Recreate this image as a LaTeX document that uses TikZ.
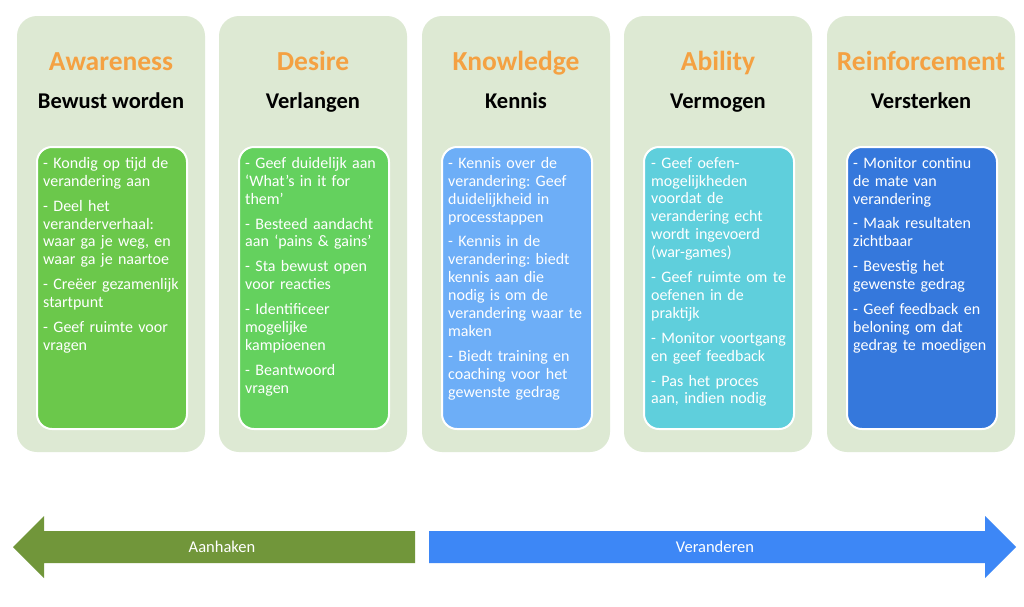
\documentclass[tikz,border=0pt]{standalone}
\usepackage{fontspec}
\setmainfont{Carlito}
\frenchspacing
\definecolor{panelbg}{HTML}{DDE9D3}
\definecolor{ttlorange}{HTML}{F4A142}
\definecolor{cA}{HTML}{6BC84B}
\definecolor{cB}{HTML}{64D15E}
\definecolor{cC}{HTML}{6DAEF7}
\definecolor{cD}{HTML}{5FCFDC}
\definecolor{cE}{HTML}{3578DC}
\definecolor{arrL}{HTML}{71963A}
\definecolor{arrR}{HTML}{3D87F6}
\tikzset{
  panel/.style={fill=panelbg, draw=none, rounded corners=20pt},
  inner/.style={draw=white, line width=2pt, rounded corners=15pt},
  ttl/.style={anchor=base, text=ttlorange, font=\fontsize{27.5}{30}\selectfont\bfseries, inner sep=0pt},
  sub/.style={anchor=base, text=black, font=\fontsize{22.5}{24}\selectfont\bfseries, inner sep=0pt},
  body/.style={anchor=north west, text=white, align=left, inner sep=0pt, text width=150pt, font=\fontsize{16}{17.9}\selectfont\frenchspacing},
  arrtxt/.style={text=white, font=\fontsize{16.5}{18}\selectfont, inner sep=0pt}
}
\newcommand{\psep}{\\[7pt]}
\begin{document}
\begin{tikzpicture}[x=1pt,y=-1pt]
\useasboundingbox (0,0) rectangle (1024,606);
\fill[white] (0,0) rectangle (1024,606);
% panels
\foreach \x/\c in {17/cA,219/cB,422/cC,624/cD,827/cE}{
  \fill[panel] (\x,16) rectangle ++(188,436);
  \filldraw[inner, fill=\c] (\x+20,147) rectangle ++(150,282);
}
% titles
\node[ttl] (t1) at (111,70) {Awareness};
\node[ttl] (t2) at (313,70) {Desire};
\node[ttl] (t3) at (516,70) {Knowledge};
\node[ttl] (t4) at (718,70) {Ability};
\node[ttl] (t5) at (921,70) {Reinforcement};
\node[sub] (s1) at (111,108) {Bewust worden};
\node[sub] (s2) at (313,108) {Verlangen};
\node[sub] (s3) at (516,108) {Kennis};
\node[sub] (s4) at (718,108) {Vermogen};
\node[sub] (s5) at (921,108) {Versterken};
% bodies
\node[body] (b1) at (43,157) {- Kondig op tijd de\\verandering aan\psep
- Deel het\\veranderverhaal:\\waar ga je weg, en\\waar ga je naartoe\psep
- Creëer gezamenlijk\\startpunt\psep
- Geef ruimte voor\\vragen};
\node[body] (b2) at (245,157) {- Geef duidelijk aan\\‘What’s in it for\\them’\psep
- Besteed aandacht\\aan ‘pains \& gains’\psep
- Sta bewust open\\voor reacties\psep
- Identificeer\\mogelijke\\kampioenen\psep
- Beantwoord\\vragen};
\node[body] (b3) at (448,157) {- Kennis over de\\verandering: Geef\\duidelijkheid in\\processtappen\psep
- Kennis in de\\verandering: biedt\\kennis aan die\\nodig is om de\\verandering waar te\\maken\psep
- Biedt training en\\coaching voor het\\gewenste gedrag};
\node[body] (b4) at (651,157) {- Geef oefen-\\mogelijkheden\\voordat de\\verandering echt\\wordt ingevoerd\\(war-games)\psep
- Geef ruimte om te\\oefenen in de\\praktijk\psep
- Monitor voortgang\\en geef feedback\psep
- Pas het proces\\aan, indien nodig};
\node[body] (b5) at (853,157) {- Monitor continu\\de mate van\\verandering\psep
- Maak resultaten\\zichtbaar\psep
- Bevestig het\\gewenste gedrag\psep
- Geef feedback en\\beloning om dat\\gedrag te moedigen};
% arrows
\fill[arrL] (13,547) -- (44,516) -- (44,531) -- (415,531) -- (415,563) -- (44,563) -- (44,578) -- cycle;
\fill[arrR] (1016,547) -- (985,516) -- (985,531) -- (429,531) -- (429,563) -- (985,563) -- (985,578) -- cycle;
\node[arrtxt] (aL) at (222,547) {Aanhaken};
\node[arrtxt] (aR) at (715,547) {Veranderen};
\end{tikzpicture}
\end{document}
